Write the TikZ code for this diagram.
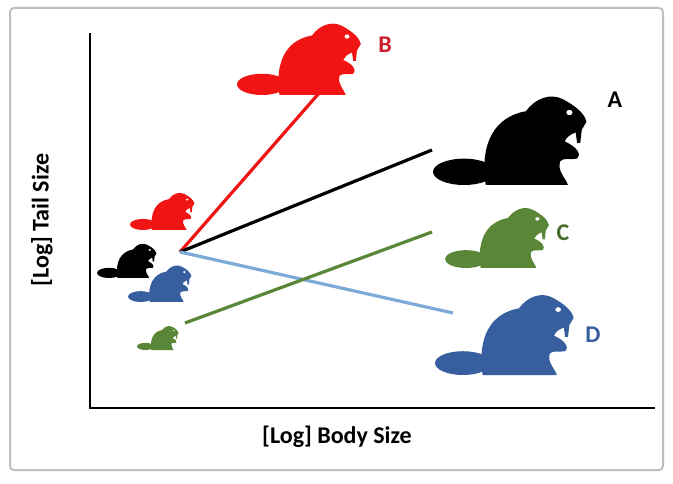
\documentclass[tikz,border=0pt]{standalone}
\usepackage{fontspec}
\setmainfont{Carlito}
\tikzset{
  beaver/.pic={
    \begin{scope}[yscale=0.85]
    \fill[pic actions] (0.20,-0.10) ellipse [x radius=0.20,y radius=0.10];
    \fill[pic actions] (0.30,-0.04) -- (0.42,-0.08) -- (0.42,-0.16) -- cycle;
    \fill[pic actions] (0.34,0) .. controls (0.30,-0.32) and (0.40,-0.52) .. (0.60,-0.56)
      .. controls (0.66,-0.66) and (0.76,-0.70) .. (0.84,-0.65)
      .. controls (0.92,-0.60) and (0.98,-0.54) .. (0.99,-0.48)
      -- (0.96,-0.42) -- (0.95,-0.32) -- (0.93,-0.32) -- (0.92,-0.40)
      .. controls (0.88,-0.38) and (0.86,-0.36) .. (0.85,-0.33)
      .. controls (0.93,-0.29) and (0.96,-0.23) .. (0.93,-0.20)
      .. controls (0.89,-0.19) and (0.84,-0.21) .. (0.82,-0.18)
      .. controls (0.80,-0.10) and (0.86,-0.05) .. (0.87,0) -- cycle;
    \fill[white] (0.88,-0.55) circle[radius=0.02];
    \end{scope}
  },
  lab/.style={font=\bfseries\fontsize{24}{26}\selectfont},
  ln/.style={line width=3.2pt}
}
\definecolor{bred}{RGB}{240,20,20}
\definecolor{lred}{RGB}{200,30,40}
\definecolor{bgreen}{RGB}{90,135,55}
\definecolor{bblue}{RGB}{55,95,160}
\definecolor{lblue}{RGB}{125,170,215}
\begin{document}
\begin{tikzpicture}[x=1pt,y=-1pt]
\useasboundingbox (0,0) rectangle (673,484);
\fill[white] (0,0) rectangle (673,484);
\draw[black!25,line width=2pt,rounded corners=4pt] (10,8) rectangle (663,470);
\draw[line width=1.8pt] (90,33) -- (90,408) -- (655,408);
\node[lab,rotate=90] (ylab) at (42,220) {[Log] Tail Size};
\node[lab] (xlab) at (337,437) {[Log] Body Size};
\coordinate (o) at (180,252);
\coordinate (eb) at (320,92);
\coordinate (ea) at (432,150);
\coordinate (ed) at (453,313);
\coordinate (gs) at (185,323);
\coordinate (ec) at (432,232);
\draw[ln,bred] (o) -- (eb);
\draw[ln,black] (o) -- (ea);
\draw[ln,lblue] (o) -- (ed);
\draw[ln,bgreen] (gs) -- (ec);
\pic[fill=bred,scale=125] at (237,95) {beaver};
\pic[fill=black,scale=155] at (433,185) {beaver};
\pic[fill=bgreen,scale=105] at (445,268) {beaver};
\pic[fill=bblue,scale=140] at (435,375) {beaver};
\pic[fill=bred,scale=65] at (130,230) {beaver};
\pic[fill=black,scale=60] at (97,278) {beaver};
\pic[fill=bblue,scale=64] at (128,302) {beaver};
\pic[fill=bgreen,scale=42] at (137,350) {beaver};
\node[lab,lred] (lb) at (385,45) {B};
\node[lab] (la) at (615,100) {A};
\node[lab,bgreen!80!black] (lc) at (563,233) {C};
\node[lab,bblue] (ld) at (593,335) {D};
\end{tikzpicture}
\end{document}
